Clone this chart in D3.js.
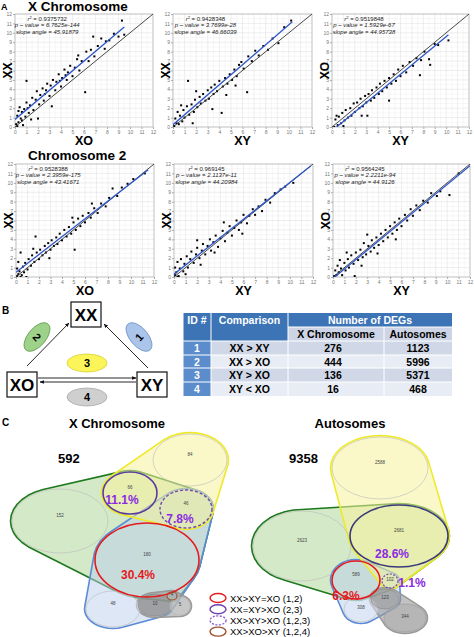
<!DOCTYPE html>
<html><head><meta charset="utf-8">
<script src="https://cdn.jsdelivr.net/npm/d3@7"></script>
<style>body{margin:0;background:#fff}svg{display:block;font-family:Arial,"Liberation Sans",sans-serif}</style>
</head><body><svg id="c" width="474" height="637"></svg>
<script>
// ---------- DATA ----------
const panelTitles = ["X Chromosome", "Chromosome 2"];
const xLabels = ["XO","XY","XY","XO","XY","XY"];
const yLabels = ["XX","XX","XO","XX","XX","XO"];
const rSquared = ["0.9375732","0.9428348","0.9519848","0.9528388","0.969145","0.9564245"];
const pValues = ["6.7625e-144","3.7699e-28","1.5929e-67","2.3959e-175","2.1137e-11","2.2211e-94"];
const slopeAngles = ["45.91879","46.66039","44.95738","43.41671","44.20984","44.9126"];
const intercepts = [0.8, 0.25, -0.4, 0.5, 0.3, -0.15];
const fitRangeX = [[0,9.5],[0,10.3],[0.4,10.2],[0,11.5],[0,11.8],[0,12]];
const pts1 = [[0.1,0.3],[0.2,1.2],[0.3,0.5],[0.4,2.1],[0.5,0.9],[0.6,1.6],[0.7,0.2],[0.8,1.9],[0.9,1.1],[1.0,2.6],[1.0,4.9],[1.2,1.5],[1.3,2.3],[1.5,3.1],[1.6,1.8],[1.8,2.9],[1.9,3.8],[2.1,2.4],[2.2,3.4],[2.4,4.1],[2.5,2.8],[2.7,3.9],[2.8,4.6],[3.0,3.3],[3.1,4.4],[3.3,5.0],[3.5,3.9],[3.6,4.8],[3.8,5.6],[4.0,4.3],[4.1,5.2],[4.3,6.1],[4.5,5.0],[4.6,5.8],[4.8,6.5],[5.0,5.4],[5.2,6.3],[5.4,7.2],[5.6,6.0],[5.8,7.0],[6.1,3.7],[6.2,8.0],[6.4,7.0],[6.6,8.2],[6.9,7.5],[7.2,8.6],[7.5,9.4],[7.8,8.3],[8.2,9.2],[8.6,9.9],[9.0,9.6],[9.3,11.3],[9.5,9.8],[2.0,0.9],[3.2,2.2],[0.3,1.7],[1.4,0.8],[0.2,0.1],[0.6,0.7],[1.1,2.0],[2.6,3.5],[3.9,4.9],[4.4,5.5],[5.5,7.6],[6.8,9.6],[7.9,9.1]];
const pts2 = [[0.1,0.1],[0.2,0.9],[0.3,0.4],[0.4,1.6],[0.5,0.3],[0.6,1.2],[0.8,0.6],[0.9,1.8],[1.0,1.0],[1.2,2.2],[1.3,4.9],[1.4,1.3],[1.6,2.4],[1.8,1.6],[1.9,2.9],[2.1,2.1],[2.3,3.2],[2.4,2.5],[2.6,3.5],[2.8,2.8],[3.0,3.9],[3.1,3.0],[3.3,4.2],[3.5,3.5],[3.6,4.5],[3.8,3.8],[4.0,4.9],[4.2,1.5],[4.3,4.3],[4.5,5.2],[4.7,4.6],[4.9,5.6],[5.1,5.0],[5.3,6.1],[5.5,5.4],[5.7,6.6],[5.9,6.9],[6.1,6.2],[6.4,3.7],[6.5,7.5],[6.8,7.0],[7.1,8.1],[7.4,7.6],[7.8,8.6],[8.2,8.2],[8.6,9.4],[9.1,8.9],[9.6,10.6],[10.2,11.3],[1.7,0.4],[3.4,1.9],[0.7,2.3],[2.0,3.8],[4.6,3.4],[5.4,4.4]];
const pts3 = [[0.2,0.0],[0.3,0.8],[0.5,0.2],[0.6,1.1],[0.8,0.4],[0.9,1.5],[1.1,0.7],[1.2,1.8],[1.4,1.0],[1.6,2.0],[1.7,1.2],[1.9,2.5],[2.0,1.6],[2.2,2.6],[2.4,2.0],[2.5,3.0],[2.7,2.2],[2.9,3.3],[3.0,2.6],[3.2,3.5],[3.4,2.8],[3.5,3.9],[3.7,3.1],[3.9,4.2],[4.1,3.5],[4.2,4.6],[4.4,3.8],[4.6,4.9],[4.8,4.2],[5.0,5.2],[5.2,4.6],[5.4,5.6],[5.6,4.9],[5.8,6.1],[6.0,5.4],[6.2,6.5],[6.5,5.8],[6.8,6.9],[7.1,6.5],[7.4,7.3],[7.8,7.1],[8.1,8.0],[8.5,7.2],[8.6,6.6],[9.0,8.8],[9.3,8.7],[10.2,9.2],[3.1,1.2],[2.6,1.2],[5.0,2.8],[7.7,5.5],[1.0,0.1],[0.4,1.2]];
const pts4 = [[0.1,0.1],[0.1,0.9],[0.2,0.3],[0.2,1.6],[0.3,0.6],[0.4,2.6],[0.5,0.2],[0.6,1.1],[0.7,0.5],[0.8,1.5],[1.0,0.8],[1.1,1.9],[1.3,1.2],[1.4,2.3],[1.6,1.6],[1.7,4.3],[1.8,2.6],[2.0,1.9],[2.1,2.9],[2.3,2.3],[2.5,3.3],[2.6,2.6],[2.8,3.6],[3.0,2.9],[3.1,3.9],[3.3,3.3],[3.5,4.2],[3.6,3.5],[3.8,4.6],[4.0,3.9],[4.2,5.0],[4.4,4.3],[4.6,5.3],[4.8,4.6],[5.0,5.8],[5.1,2.9],[5.2,5.0],[5.4,6.2],[5.6,5.4],[5.8,6.5],[6.0,5.8],[6.3,6.8],[6.5,6.3],[6.8,7.3],[7.1,6.8],[7.4,7.8],[7.8,7.5],[8.1,8.4],[8.4,9.4],[8.8,8.6],[9.2,9.5],[9.7,9.9],[10.2,10.4],[11.2,11.0],[1.5,3.0],[2.9,2.0],[4.9,6.3],[6.6,7.8],[0.4,0.0],[0.9,0.0]];
const pts5 = [[0.1,0.2],[0.1,1.0],[0.2,0.5],[0.3,1.6],[0.4,0.1],[0.5,0.9],[0.6,1.9],[0.8,0.6],[0.9,1.4],[1.1,2.2],[1.2,1.0],[1.4,1.9],[1.5,2.7],[1.7,1.5],[1.9,2.4],[2.0,3.1],[2.2,2.0],[2.4,2.8],[2.5,3.5],[2.7,2.4],[2.9,3.3],[3.1,4.0],[3.2,2.8],[3.4,3.7],[3.6,4.4],[3.8,3.2],[4.0,4.1],[4.2,4.9],[4.4,3.8],[4.6,4.7],[4.8,5.4],[5.0,4.4],[5.2,5.2],[5.4,6.0],[5.6,5.0],[5.8,5.8],[6.0,6.6],[6.3,5.7],[6.5,6.5],[6.8,7.2],[7.0,6.6],[7.3,7.5],[7.6,7.0],[7.9,8.2],[8.3,7.9],[8.7,8.9],[9.2,9.3],[9.6,9.6],[10.3,10.0],[0.3,0.0],[1.0,0.3],[2.3,1.3],[3.5,2.6],[2.0,3.9],[4.3,5.8],[5.9,4.6]];
const pts6 = [[0.1,0.1],[0.2,0.7],[0.3,0.2],[0.4,1.2],[0.5,0.5],[0.7,0.9],[0.8,0.2],[1.0,1.5],[1.1,0.7],[1.3,1.9],[1.4,1.0],[1.6,2.3],[1.8,1.4],[1.9,0.1],[2.0,2.6],[2.2,1.8],[2.4,2.9],[2.6,2.1],[2.7,3.6],[2.9,2.4],[3.1,3.3],[3.3,2.7],[3.4,3.9],[3.6,3.1],[3.8,4.2],[4.0,3.4],[4.2,4.6],[4.4,3.8],[4.6,5.0],[4.8,4.2],[5.0,5.4],[5.2,4.6],[5.4,5.8],[5.6,5.0],[5.8,6.2],[6.0,5.4],[6.3,6.6],[6.5,6.0],[6.8,7.2],[7.0,6.5],[7.3,7.6],[7.6,7.1],[7.9,8.1],[8.3,7.9],[8.6,8.9],[9.1,8.6],[9.4,9.1],[10.2,8.7],[11.0,11.0],[1.2,2.6],[2.5,1.2],[3.9,2.5],[5.5,4.0],[0.6,1.8],[3.0,4.5]];
const scatterPoints = [pts1, pts2, pts3, pts4, pts5, pts6];
const axisTicks = [0,1,2,3,4,5,6,7,8,9,10,11,12];

const tableHeader = ["ID #", "Comparison", "Number of DEGs"];
const tableSubHeader = ["X Chromosome", "Autosomes"];
const tableIds = ["1","2","3","4"];
const tableComparisons = ["XX > XY","XX > XO","XY > XO","XY < XO"];
const degX = [276, 444, 136, 16];
const degAuto = [1123, 5996, 5371, 468];

const vennTitles = ["X Chromosome", "Autosomes"];
const vennTotals = [592, 9358];
const vennCountsX = [84, 66, 46, 152, 180, 48, 10, 5, 4];
const vennCountsA = [2588, 2681, 2623, 589, 102, 308, 123, 344];
const pctX = ["11.1%", "7.8%", "30.4%"];
const pctA = ["28.6%", "6.3%", "1.1%"];
const legendLabels = ["XX>XY=XO (1,2)", "XX=XY>XO (2,3)", "XX>XY>XO (1,2,3)", "XX>XO>XY (1,2,4)"];

// ---------- DRAW ----------
const svg = d3.select("#c");

function scatter(i, px0, px1, py0, py1) {
  const x = d3.scaleLinear().domain([0,12]).range([px0,px1]);
  const y = d3.scaleLinear().domain([0,12]).range([py1,py0]);
  const g = svg.append("g");
  const halves = d3.range(0,12.01,0.5);
  g.selectAll(".gv").data(halves).join("line").attr("x1",d=>x(d)).attr("x2",d=>x(d)).attr("y1",py0).attr("y2",py1).attr("stroke",d=>d%1?"#eee":"#ddd").attr("stroke-width",0.5);
  g.selectAll(".gh").data(halves).join("line").attr("y1",d=>y(d)).attr("y2",d=>y(d)).attr("x1",px0).attr("x2",px1).attr("stroke",d=>d%1?"#eee":"#ddd").attr("stroke-width",0.5);
  g.append("rect").attr("x",px0).attr("y",py0).attr("width",px1-px0).attr("height",py1-py0).attr("fill","none").attr("stroke","#bbb").attr("stroke-width",0.8);
  const ax = g.append("g").attr("transform",`translate(0,${py1})`).call(d3.axisBottom(x).tickValues(axisTicks).tickSize(2).tickPadding(1));
  const ay = g.append("g").attr("transform",`translate(${px0},0)`).call(d3.axisLeft(y).tickValues(axisTicks).tickSize(2).tickPadding(1));
  [ax,ay].forEach(a=>{a.selectAll("text").attr("font-size",5).attr("fill","#777"); a.selectAll("path,line").attr("stroke","#aaa"); a.select(".domain").remove();});
  const clip = "clip"+i;
  g.append("clipPath").attr("id",clip).append("rect").attr("x",px0).attr("y",py0).attr("width",px1-px0).attr("height",py1-py0);
  const inner = g.append("g").attr("clip-path",`url(#${clip})`);
  inner.selectAll("rect.p").data(scatterPoints[i]).join("rect").attr("x",d=>x(d[0])-1).attr("y",d=>y(d[1])-1).attr("width",2).attr("height",2).attr("fill","#000");
  inner.append("line").attr("x1",x(0)).attr("y1",y(0)).attr("x2",x(12)).attr("y2",y(12)).attr("stroke","#333").attr("stroke-width",0.9);
  const slope = Math.tan(+slopeAngles[i]*Math.PI/180);
  const fr = fitRangeX[i];
  inner.append("line").attr("x1",x(fr[0])).attr("y1",y(intercepts[i]+slope*fr[0])).attr("x2",x(fr[1])).attr("y2",y(intercepts[i]+slope*fr[1])).attr("stroke","#2f56c8").attr("stroke-width",1.3);
  const tx = x(2.8);
  const st = g.append("g").attr("font-size",6).attr("fill","#222").attr("text-anchor","middle");
  const t1 = st.append("text").attr("x",tx).attr("y",y(11.3));
  t1.append("tspan").attr("font-style","italic").text("r");
  t1.append("tspan").attr("font-size",4).attr("dy",-2).text("2");
  t1.append("tspan").attr("dy",2).text(" = "+rSquared[i]);
  st.append("text").attr("x",tx).attr("y",y(10.6)).attr("font-style","italic").text("p – value = "+pValues[i]);
  st.append("text").attr("x",tx).attr("y",y(9.9)).attr("font-style","italic").text("slope angle = "+slopeAngles[i]);
  g.append("text").attr("x",(px0+px1)/2).attr("y",py1+18).attr("text-anchor","middle").attr("font-size",12.5).attr("font-weight","bold").text(xLabels[i]);
  g.append("text").attr("transform",`translate(${px0-3},${(py0+py1)/2}) rotate(-90)`).attr("text-anchor","middle").attr("font-size",12).attr("font-weight","bold").text(yLabels[i]);
}
const cols = [[15,153],[173,312],[332,469]];
cols.forEach((c,k)=>scatter(k,c[0],c[1],14,127));
cols.forEach((c,k)=>scatter(k+3,c[0]+1,c[1]+1,164,277));
svg.append("text").attr("x",1).attr("y",10).attr("font-size",9).attr("font-weight","bold").text("A");
svg.append("text").attr("x",28).attr("y",11).attr("font-size",13.5).attr("font-weight","bold").text(panelTitles[0]);
svg.append("text").attr("x",28).attr("y",160).attr("font-size",13.5).attr("font-weight","bold").text(panelTitles[1]);

// ---- Panel B ----
svg.append("text").attr("x",2).attr("y",314).attr("font-size",10).attr("font-weight","bold").text("B");
const defs = svg.append("defs");
defs.append("marker").attr("id","ah").attr("viewBox","0 0 10 10").attr("refX",9).attr("refY",5).attr("markerWidth",5).attr("markerHeight",5).attr("orient","auto").append("path").attr("d","M0,1L10,5L0,9Z").attr("fill","#111");
const ell = (cx,cy,rx,ry,rot,fill,stroke,label)=>{
  const g = svg.append("g").attr("transform",`translate(${cx},${cy}) rotate(${rot})`);
  g.append("ellipse").attr("rx",rx).attr("ry",ry).attr("fill",fill).attr("stroke",stroke).attr("stroke-width",0.8);
  svg.append("text").attr("x",cx).attr("y",cy+4).attr("text-anchor","middle").attr("font-size",11).attr("font-weight","bold").attr("transform",rot?`rotate(${rot*1.2},${cx},${cy})`:null).text(label);
};
ell(37,337,9,17,40,"#9ed28a","#5a9a46",tableIds[1]);
ell(139,337,9,17,-40,"#aac4ea","#6a8fc8",tableIds[0]);
ell(87,363,20,9,0,"#fbf55a","#d8d030",tableIds[2]);
ell(87,397,20,9,0,"#cfcfcf","#a8a8a8",tableIds[3]);
const box=(x0,y0,t)=>{svg.append("rect").attr("x",x0).attr("y",y0).attr("width",30).attr("height",25).attr("fill","#fff").attr("stroke","#111").attr("stroke-width",1.2);
  svg.append("text").attr("x",x0+15).attr("y",y0+19).attr("text-anchor","middle").attr("font-size",17).attr("font-weight","bold").text(t);};
[[27,366,69,323],[148,368,104,324],[38,378,136,378],[136,382,40,382]].forEach(a=>svg.append("line").attr("x1",a[0]).attr("y1",a[1]).attr("x2",a[2]).attr("y2",a[3]).attr("stroke","#111").attr("stroke-width",0.9).attr("marker-end","url(#ah)"));
box(71,302,"XX"); box(7,372,"XO"); box(137,372,"XY");

// table
const tX=[183,211,288,384,452], tY=[313,327,341,355,368,382,396];
const tb = svg.append("g").attr("font-weight","bold").attr("font-size",10.5);
tb.append("rect").attr("x",tX[0]).attr("y",tY[0]).attr("width",tX[4]-tX[0]).attr("height",tY[2]-tY[0]).attr("fill","#3d74b6");
tb.append("rect").attr("x",tX[2]).attr("y",tY[1]).attr("width",tX[4]-tX[2]).attr("height",tY[2]-tY[1]).attr("fill","#ccd4e5");
tableIds.forEach((id,r)=>{
  const yy=tY[r+2];
  tb.append("rect").attr("x",tX[0]).attr("y",yy).attr("width",tX[1]-tX[0]).attr("height",14).attr("fill","#5b8ccb");
  tb.append("rect").attr("x",tX[1]).attr("y",yy).attr("width",tX[4]-tX[1]).attr("height",14).attr("fill",r%2?"#e8ecf4":"#d0d8e8");
  tb.append("text").attr("x",(tX[0]+tX[1])/2).attr("y",yy+11).attr("text-anchor","middle").attr("fill","#fff").text(id);
  tb.append("text").attr("x",(tX[1]+tX[2])/2).attr("y",yy+11).attr("text-anchor","middle").text(tableComparisons[r]);
  tb.append("text").attr("x",(tX[2]+tX[3])/2-3).attr("y",yy+11).attr("text-anchor","middle").text(degX[r]);
  tb.append("text").attr("x",(tX[3]+tX[4])/2).attr("y",yy+11).attr("text-anchor","middle").text(degAuto[r]);
});
for(let k=0;k<4;k++) tb.append("line").attr("x1",tX[k]).attr("x2",tX[k]).attr("y1",k>=3?tY[1]:tY[0]).attr("y2",tY[6]).attr("stroke","#fff").attr("stroke-width",1);
for(let k=1;k<6;k++) tb.append("line").attr("x1",k===1?tX[2]:tX[0]).attr("x2",tX[4]).attr("y1",tY[k]).attr("y2",tY[k]).attr("stroke","#fff").attr("stroke-width",1);
tb.append("text").attr("x",(tX[0]+tX[1])/2).attr("y",tY[0]+11).attr("text-anchor","middle").attr("fill","#fff").text(tableHeader[0]);
tb.append("text").attr("x",(tX[1]+tX[2])/2).attr("y",tY[0]+11).attr("text-anchor","middle").attr("fill","#fff").text(tableHeader[1]);
tb.append("text").attr("x",(tX[2]+tX[4])/2).attr("y",tY[0]+11).attr("text-anchor","middle").attr("fill","#fff").text(tableHeader[2]);
tb.append("text").attr("x",(tX[2]+tX[3])/2).attr("y",tY[1]+11).attr("text-anchor","middle").text(tableSubHeader[0]);
tb.append("text").attr("x",(tX[3]+tX[4])/2).attr("y",tY[1]+11).attr("text-anchor","middle").text(tableSubHeader[1]);

// ---- Panel C ----
svg.append("text").attr("x",2).attr("y",426).attr("font-size",10).attr("font-weight","bold").text("C");
svg.append("text").attr("x",117).attr("y",428).attr("text-anchor","middle").attr("font-size",13).attr("font-weight","bold").text(vennTitles[0]);
svg.append("text").attr("x",350).attr("y",428).attr("text-anchor","middle").attr("font-size",13).attr("font-weight","bold").text(vennTitles[1]);
svg.append("text").attr("x",58).attr("y",463).attr("font-size",13).attr("font-weight","bold").text(vennTotals[0]);
svg.append("text").attr("x",289).attr("y",463).attr("font-size",13).attr("font-weight","bold").text(vennTotals[1]);

const ellPts = e => d3.range(0,360,10).map(a=>[e[0]+e[2]*Math.cos(a*Math.PI/180), e[1]+e[3]*Math.sin(a*Math.PI/180)]);
const hull = (es,pad) => { const h = d3.polygonHull(es.flatMap(e=>ellPts([e[0],e[1],e[2]+pad,e[3]+pad]))); return "M"+h.join("L")+"Z"; };
function venn(E, hulls, circles, labels, pcts){
  const g = svg.append("g");
  hulls.forEach(h=>g.append("path").attr("d",hull(h.m.map(k=>E[k]),1.5)).attr("fill",h.fill).attr("fill-opacity",h.op).attr("stroke",h.stroke).attr("stroke-width",1.6).attr("stroke-linejoin","round"));
  circles.forEach(c=>{ const e=E[c.k]; g.append("ellipse").attr("cx",e[0]).attr("cy",e[1]).attr("rx",e[2]).attr("ry",e[3]).attr("fill",c.fill||"none").attr("fill-opacity",0.5).attr("stroke",c.stroke).attr("stroke-width",c.w||0.6).attr("stroke-dasharray",c.dash||null);});
  labels.forEach((l,k)=>{ const e=E[k]; g.append("text").attr("x",e[0]).attr("y",e[1]-(e[3]>15?4:0)).attr("text-anchor","middle").attr("font-size",4.5).attr("fill","#444").text(l);});
  pcts.forEach(p=>g.append("text").attr("x",p[0]).attr("y",p[1]).attr("text-anchor","middle").attr("font-size",12).attr("font-weight","bold").attr("fill",p[3]).text(p[2]));
}
// X chromosome ellipses: 84,66,46,152,180,48,10,5,4
const EX=[[190,460,37,26],[130,493,27,21],[186,509,26,19],[60,521,48,32],[147,560,52,37],[113,609,27,18],[155,605,17,11],[180,606,10,9],[172,596,5,4]];
venn(EX,[
  {m:[3,1,2,4,8],fill:"#9fcf86",op:0.45,stroke:"#1f7a1f"},
  {m:[2,4,5,6,8],fill:"#b9cdec",op:0.5,stroke:"#5b8bd6"},
  {m:[0,1,2],fill:"#f6f29a",op:0.55,stroke:"#eeea2a"},
  {m:[6,7,8],fill:"#9a9a9a",op:0.6,stroke:"#999"}
],[
  {k:0,stroke:"#bbb"},{k:3,stroke:"#bbb"},{k:5,stroke:"#bbb",fill:"#e0e8f8"},{k:6,stroke:"#888",fill:"#888"},{k:7,stroke:"#bbb",fill:"#ccc"},
  {k:1,stroke:"#5a3ca0",w:1.6},{k:2,stroke:"#7048b0",w:1.4,dash:"3,2"},{k:4,stroke:"#e41a1c",w:1.6},{k:8,stroke:"#a0522d",w:1.2}
], vennCountsX, [[122,504,pctX[0],"#8a2be2"],[180,523,pctX[1],"#8a2be2"],[138,579,pctX[2],"#e41a1c"]]);
// Autosomes ellipses: 2588,2681,2623,589,102,308,123,344
const EA=[[380,468,48,31],[399,536,49,31],[302,546,49,35],[356,580,24,19],[390,581,8,7],[361,609,17,13],[385,599,14,10],[405,618,21,14]];
venn(EA,[
  {m:[2,1,3,4],fill:"#9fcf86",op:0.45,stroke:"#1f7a1f"},
  {m:[3,5,4,6],fill:"#b9cdec",op:0.5,stroke:"#5b8bd6"},
  {m:[0,1,4],fill:"#f6f29a",op:0.55,stroke:"#eeea2a"},
  {m:[6,7],fill:"#9a9a9a",op:0.6,stroke:"#999"}
],[
  {k:0,stroke:"#bbb"},{k:2,stroke:"#bbb"},{k:5,stroke:"#bbb",fill:"#e0e8f8"},{k:6,stroke:"#888",fill:"#999"},{k:7,stroke:"#999",fill:"#aaa"},
  {k:1,stroke:"#3a3a7a",w:1.6},{k:3,stroke:"#e41a1c",w:1.6},{k:4,stroke:"#7048b0",w:1.2,dash:"2,1.5"}
], vennCountsA, [[392,558,pctA[0],"#8a2be2"],[346,600,pctA[1],"#e41a1c"],[412,587,pctA[2],"#8a2be2"]]);

// legend
const legStroke=["#e41a1c","#6a3fb0","#8a5fd0","#a0522d"];
legendLabels.forEach((l,k)=>{
  const yy=598+k*11.2;
  svg.append("ellipse").attr("cx",218).attr("cy",yy).attr("rx",8).attr("ry",4.5).attr("fill","#fff").attr("stroke",legStroke[k]).attr("stroke-width",1.4).attr("stroke-dasharray",k===2?"2,1.5":null);
  svg.append("text").attr("x",230).attr("y",yy+3.5).attr("font-size",9.5).text(l);
});
</script></body></html>
